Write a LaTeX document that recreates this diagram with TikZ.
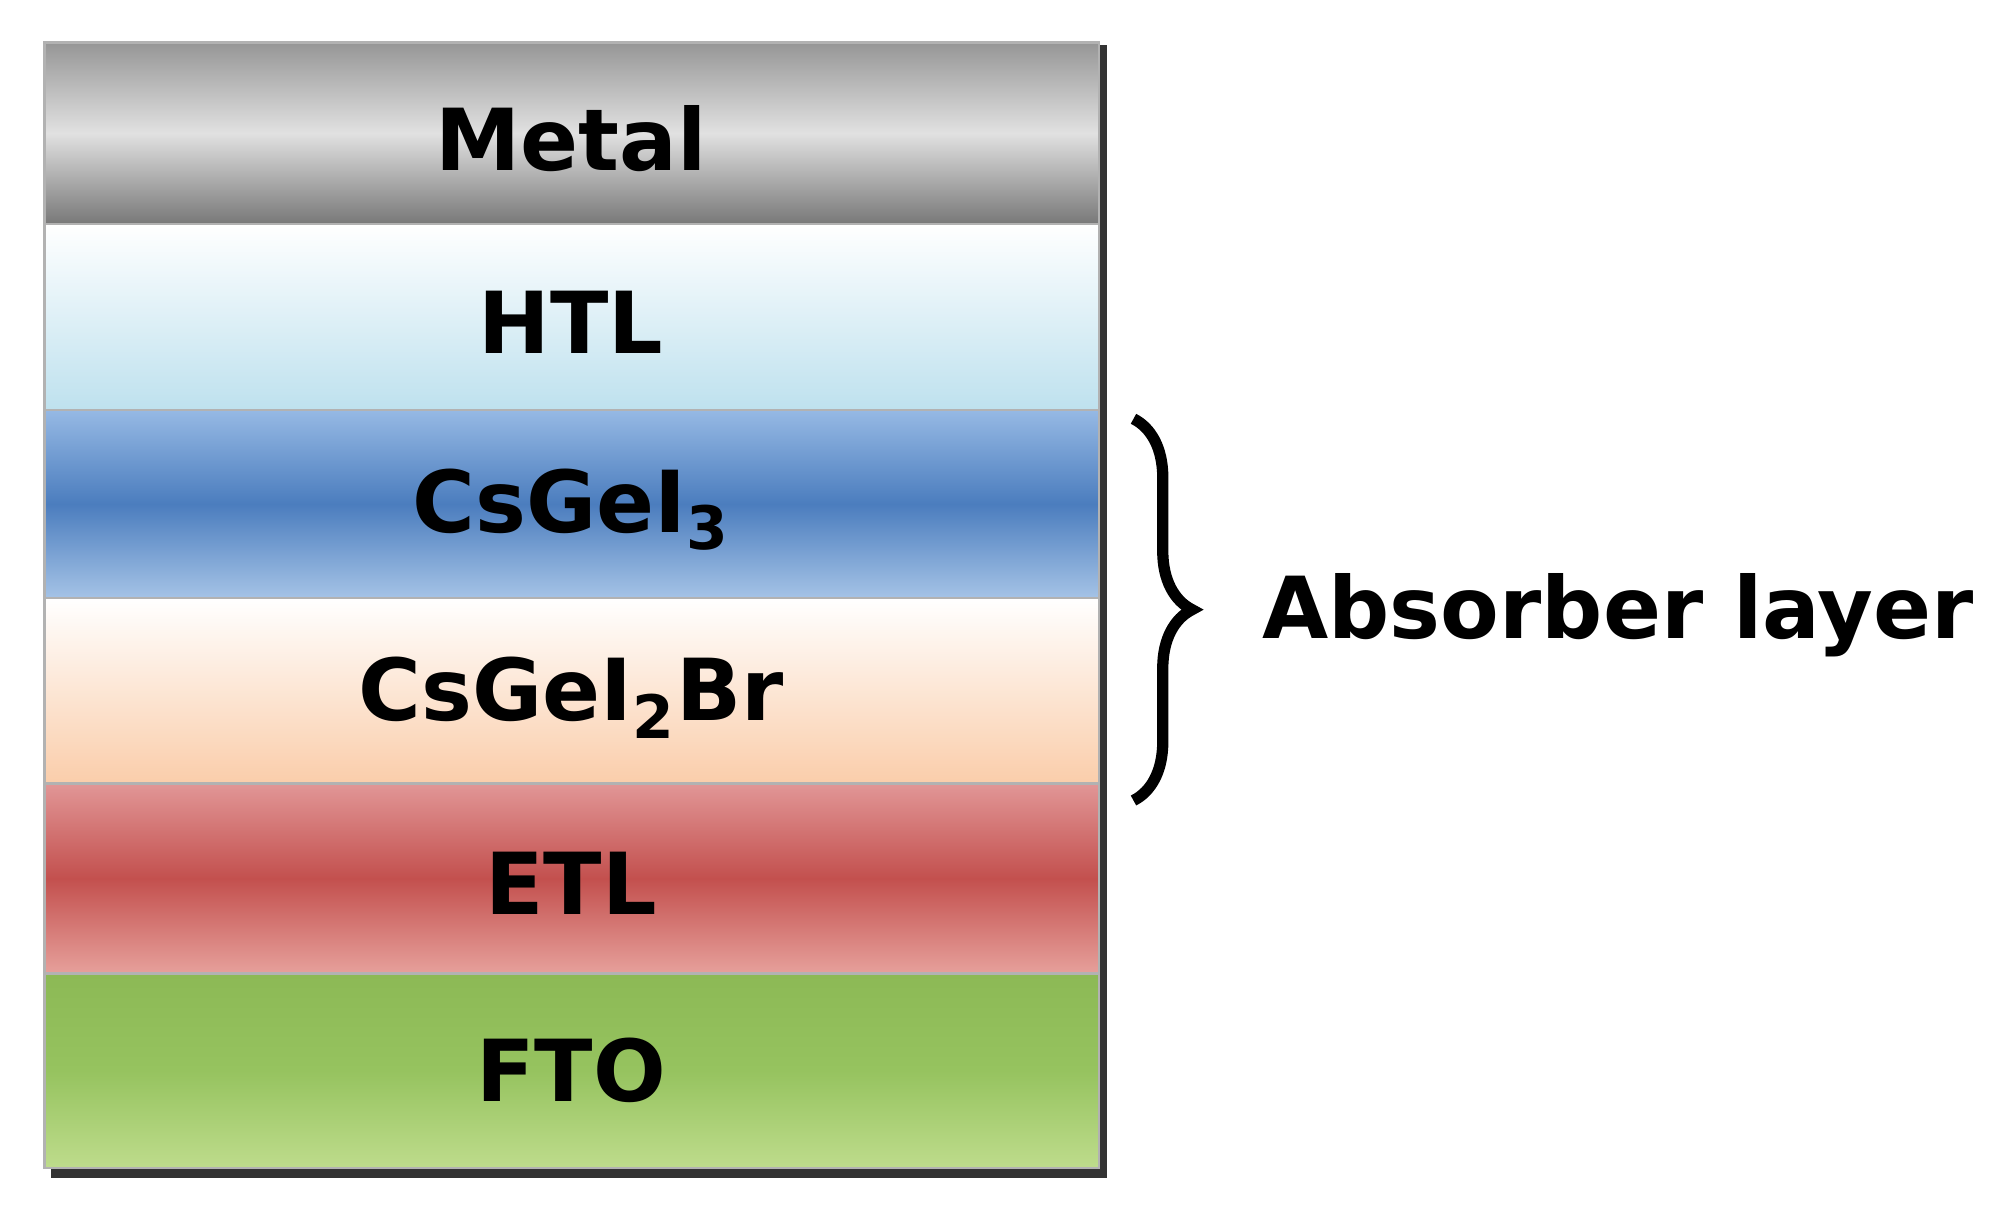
\documentclass[tikz,border=0pt]{standalone}
\usepackage{fontspec}
\setmainfont{DejaVu Sans}
\usetikzlibrary{decorations.pathreplacing}
\definecolor{mtop}{RGB}{150,150,150}
\definecolor{mmid}{RGB}{225,225,225}
\definecolor{mbot}{RGB}{120,120,120}
\definecolor{hbot}{RGB}{190,225,238}
\definecolor{btop}{RGB}{150,185,228}
\definecolor{bmid}{RGB}{75,125,190}
\definecolor{bbot}{RGB}{165,195,230}
\definecolor{pbot}{RGB}{250,205,170}
\definecolor{rtop}{RGB}{225,150,150}
\definecolor{rmid}{RGB}{195,80,78}
\definecolor{rbot}{RGB}{230,160,155}
\definecolor{gtop}{RGB}{140,185,85}
\definecolor{gmid}{RGB}{150,195,95}
\definecolor{gbot}{RGB}{190,220,140}
\begin{document}
\begin{tikzpicture}[x=0.01cm,y=-0.01cm,
 lay/.style={draw=gray!60,line width=0.6pt},
 lbl/.style={font=\fontsize{19}{22}\bfseries\selectfont},
]
\useasboundingbox (0,0) rectangle (1560,945);
\fill[gray!40!black] (40,35) rectangle (864,920);
\shade[lay,top color=mtop,bottom color=mbot,middle color=mmid] (35,33) rectangle (858,175);
\shade[lay,top color=white,bottom color=hbot] (35,175) rectangle (858,320);
\shade[lay,top color=btop,bottom color=bbot,middle color=bmid] (35,320) rectangle (858,467);
\shade[lay,top color=white,bottom color=pbot] (35,467) rectangle (858,612);
\shade[lay,top color=rtop,bottom color=rbot,middle color=rmid] (35,612) rectangle (858,760);
\shade[lay,top color=gtop,bottom color=gbot,middle color=gmid] (35,760) rectangle (858,912);
\node[lbl] (metal) at (446,108) {Metal};
\node[lbl] (htl) at (446,252) {HTL};
\node[lbl] (cs1) at (446,398) {CsGeI\textsubscript{3}};
\node[lbl] (cs2) at (446,545) {CsGeI\textsubscript{2}Br};
\node[lbl] (etl) at (446,690) {ETL};
\node[lbl] (fto) at (446,836) {FTO};
\coordinate (b1) at (885,327);
\coordinate (b2) at (885,625);
\draw[line width=2.5pt,decorate,decoration={brace,amplitude=13pt}] (b1) -- (b2);
\node[font=\fontsize{19}{22}\bfseries\selectfont,anchor=west,inner sep=0pt] (abs) at (985,480) {Absorber layer};
\end{tikzpicture}
\end{document}
